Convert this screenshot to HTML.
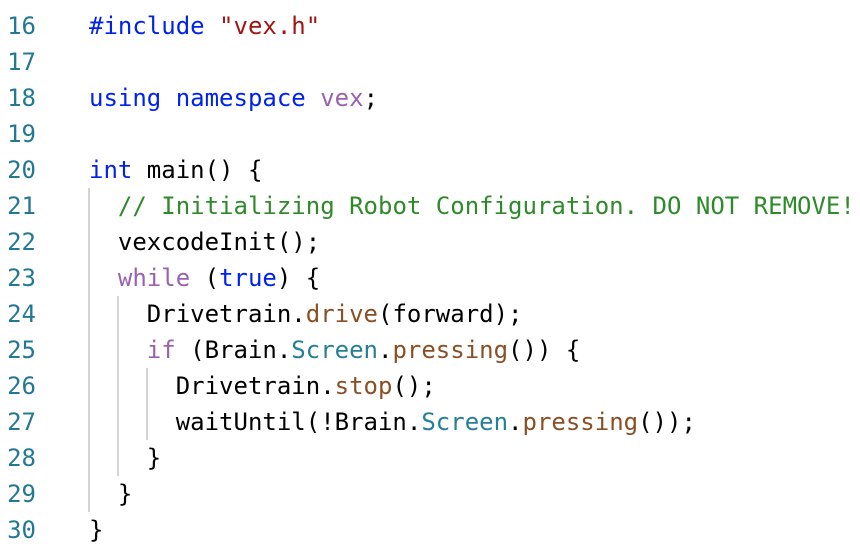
<!DOCTYPE html>
<html><head><style>
html,body{margin:0;padding:0;background:#fff;width:860px;height:554px;overflow:hidden}
body{position:relative;font-family:"DejaVu Sans Mono","Liberation Mono",monospace;font-size:24px}
.l{position:absolute;left:0;height:36px;line-height:36px;white-space:pre;color:#000}
.n{position:absolute;left:6px;width:30px;text-align:right;color:#237893}
.c{position:absolute;left:89px}
.g{position:absolute;width:2px;background:#d4d4d4}
.k{color:#0022ee}.s{color:#a31515}.p{color:#9a62b0}.cm{color:#2f8a2a}.f{color:#8b4f24}.t{color:#267f99}
</style></head><body>
<div class="g" style="left:88px;top:188px;height:324px"></div>
<div class="g" style="left:117px;top:296px;height:180px"></div>
<div class="g" style="left:146px;top:368px;height:72px"></div>
<div class="l" style="top:8px"><span class="n">16</span><span class="c"><span class="k">#include</span> <span class="s">"vex.h"</span></span></div>
<div class="l" style="top:44px"><span class="n">17</span></div>
<div class="l" style="top:80px"><span class="n">18</span><span class="c"><span class="k">using</span> <span class="k">namespace</span> <span class="p">vex</span>;</span></div>
<div class="l" style="top:116px"><span class="n">19</span></div>
<div class="l" style="top:152px"><span class="n">20</span><span class="c"><span class="k">int</span> main() {</span></div>
<div class="l" style="top:188px"><span class="n">21</span><span class="c">  <span class="cm">// Initializing Robot Configuration. DO NOT REMOVE!</span></span></div>
<div class="l" style="top:224px"><span class="n">22</span><span class="c">  vexcodeInit();</span></div>
<div class="l" style="top:260px"><span class="n">23</span><span class="c">  <span class="p">while</span> (<span class="k">true</span>) {</span></div>
<div class="l" style="top:296px"><span class="n">24</span><span class="c">    Drivetrain.<span class="f">drive</span>(forward);</span></div>
<div class="l" style="top:332px"><span class="n">25</span><span class="c">    <span class="p">if</span> (Brain.<span class="t">Screen</span>.<span class="f">pressing</span>()) {</span></div>
<div class="l" style="top:368px"><span class="n">26</span><span class="c">      Drivetrain.<span class="f">stop</span>();</span></div>
<div class="l" style="top:404px"><span class="n">27</span><span class="c">      waitUntil(!Brain.<span class="t">Screen</span>.<span class="f">pressing</span>());</span></div>
<div class="l" style="top:440px"><span class="n">28</span><span class="c">    }</span></div>
<div class="l" style="top:476px"><span class="n">29</span><span class="c">  }</span></div>
<div class="l" style="top:512px"><span class="n">30</span><span class="c">}</span></div>
</body></html>
